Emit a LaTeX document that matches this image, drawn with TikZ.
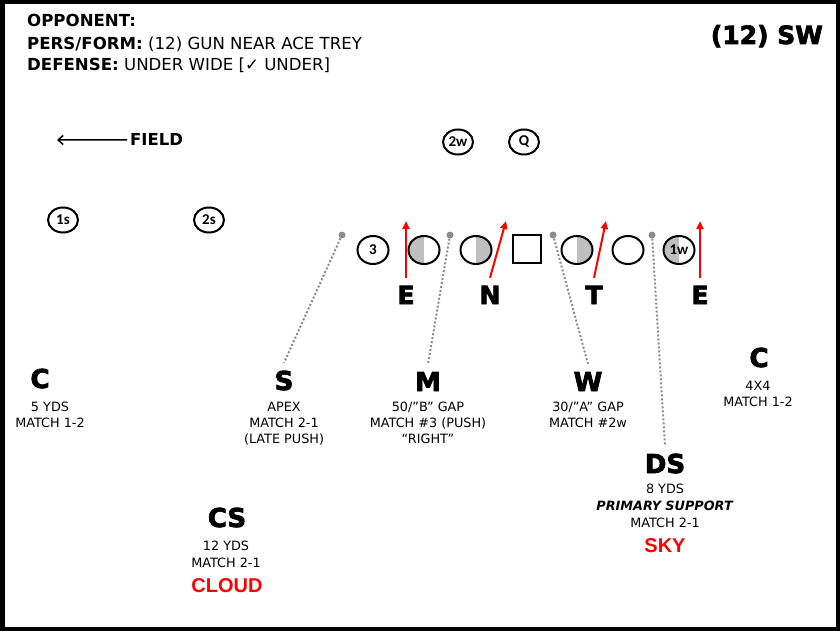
\documentclass[tikz,border=0pt]{standalone}
\usepackage{fontspec}
\setmainfont{DejaVu Sans}
\newfontfamily\blackfont{DejaVu Sans Bold}[FakeBold=3]
\newfontfamily\arialfont{Liberation Sans}
\newfontfamily\calfont{Carlito}
\usetikzlibrary{shapes.geometric,arrows.meta,positioning}
\definecolor{shadegray}{HTML}{BFBFBF}
\definecolor{dropgray}{HTML}{8C8C8C}
\tikzset{
  man/.style={draw, ellipse, line width=2pt, fill=white, minimum width=31pt, minimum height=28pt, inner sep=0pt, font=\calfont\bfseries\fontsize{15}{15}\selectfont},
  back/.style={man, minimum width=30pt, minimum height=25pt},
  ctr/.style={draw, rectangle, line width=2pt, minimum size=28pt, inner sep=0pt},
  shadeL/.style={path picture={\fill[shadegray] (path picture bounding box.south west) rectangle (path picture bounding box.north);}},
  shadeR/.style={path picture={\fill[shadegray] (path picture bounding box.south) rectangle (path picture bounding box.north east);}},
  hdr/.style={anchor=base west, inner sep=0pt, font=\fontsize{16.6}{16.6}\selectfont},
  dlr/.style={anchor=base, inner sep=0pt, outer sep=8pt, font=\blackfont\fontsize{26}{26}\selectfont},
  note/.style={anchor=base, inner sep=0pt, align=center, font=\fontsize{12.8}{16}\selectfont},
  call/.style={anchor=base, inner sep=0pt, text=red, font=\arialfont\bfseries\fontsize{20}{20}\selectfont},
  dot/.style={circle, fill=dropgray, minimum size=7pt, inner sep=0pt},
  drop/.style={draw=dropgray, line width=2pt, dash pattern=on 2pt off 2pt},
  rush/.style={draw=red, line width=2pt, -{Triangle[length=8pt,width=7pt]}}
}
\begin{document}
\begin{tikzpicture}[x=1pt, y=-1pt]
  \useasboundingbox (0,0) rectangle (840,631);
  \draw[line width=4.5pt] (2.25,2.25) rectangle (837.75,628.75);

  % header
  \node (hdrA) [hdr] at (27,27) {\textbf{OPPONENT:}};
  \node (hdrB) [hdr] at (27,50) {\textbf{PERS/FORM:} (12) GUN NEAR ACE TREY};
  \node (hdrC) [hdr] at (27,71) {\textbf{DEFENSE:} UNDER WIDE [✓ UNDER]};
  \node (title) [anchor=base east, inner sep=0pt, font=\blackfont\fontsize{25}{25}\selectfont] at (823,44) {(12) SW};

  % field arrow
  \node (field) [anchor=base west, inner sep=0pt, font=\bfseries\fontsize{16.5}{16.5}\selectfont] at (130,146) {FIELD};
  \coordinate (fieldTip) at (57,140);
  \draw[line width=1.5pt, -{Straight Barb[length=5pt,width=9pt]}] (field.west) ++(-3,0) -- (fieldTip);

  % offense
  \node (wr1s) [back] at (63,220) {1s};
  \node (wr2s) [back] at (209,220) {2s};
  \node (rb2w) [back] at (458,142) {2w};
  \node (qb) [back] at (524,142) {Q};
  \node (te3) [man] at (373,250) {3};
  \node (olA) [man, shadeL] at (424,250) {};
  \node (olB) [man, shadeR] at (476,250) {};
  \node (olC) [ctr] at (527,249) {};
  \node (olD) [man, shadeR] at (577,250) {};
  \node (olE) [man] at (628,250) {};
  \node (wr1w) [man, shadeL] at (679,250) {1w};

  % front
  \node (eL) [dlr, font=\blackfont\fontsize{25}{25}\selectfont] at (406,304) {E};
  \node (nT) [dlr, font=\blackfont\fontsize{25}{25}\selectfont] at (490,304) {N};
  \node (tK) [dlr, font=\blackfont\fontsize{25}{25}\selectfont] at (594,304) {T};
  \node (eR) [dlr, font=\blackfont\fontsize{25}{25}\selectfont] at (700,304) {E};
  \coordinate (eLtip) at (406,221);
  \coordinate (nTtip) at (506,221);
  \coordinate (tKtip) at (606,221);
  \coordinate (eRtip) at (700,221);
  \draw[rush] (eL.north) -- (eLtip);
  \draw[rush] (nT.north) -- (nTtip);
  \draw[rush] (tK.north) -- (tKtip);
  \draw[rush] (eR.north) -- (eRtip);

  % second level
  \node (cL) [dlr] at (40,388) {C};
  \node (cLnote) [note] at (50,427) {5 YDS\\MATCH 1-2};
  \node (sS) [dlr] at (284,390) {S};
  \node (sSnote) [note] at (284,443) {APEX\\MATCH 2-1\\(LATE PUSH)};
  \node (mM) [dlr] at (428,391) {M};
  \node (mMnote) [note] at (428,443) {50/”B” GAP\\MATCH \#3 (PUSH)\\“RIGHT”};
  \node (wW) [dlr] at (588,391) {W};
  \node (wWnote) [note] at (588,427) {30/”A” GAP\\MATCH \#2w};
  \node (cR) [dlr] at (759,367) {C};
  \node (cRnote) [note] at (758,406) {4X4\\MATCH 1-2};

  % safeties
  \node (dS) [dlr] at (665,473) {DS};
  \node (dSnote) [note, font=\fontsize{12.8}{16.8}\selectfont] at (665,527) {8 YDS\\\textbf{\textit{PRIMARY SUPPORT}}\\MATCH 2-1};
  \node (sky) [call] at (665,552) {SKY};
  \node (cS) [dlr] at (227,527) {CS};
  \node (cSnote) [note, font=\fontsize{12.8}{16.8}\selectfont] at (226,567) {12 YDS\\MATCH 2-1};
  \node (cloud) [call] at (227,592) {CLOUD};

  % drops
  \node (ptS) [dot] at (342,235) {};
  \node (ptM) [dot] at (450,235) {};
  \node (ptW) [dot] at (553,235) {};
  \node (ptD) [dot] at (652,235) {};
  \draw[drop] (ptS) -- (sS.north);
  \draw[drop] (ptM) -- (mM.north);
  \draw[drop] (ptW) -- (wW.north);
  \draw[drop] (ptD) -- (dS.north);
\end{tikzpicture}
\end{document}
